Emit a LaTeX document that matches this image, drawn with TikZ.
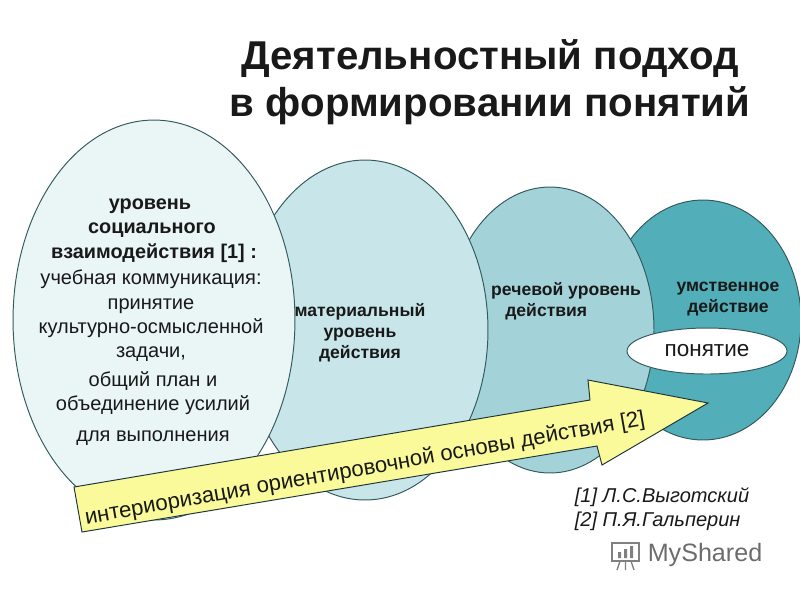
\documentclass[tikz,border=0pt]{standalone}
\usepackage{fontspec}
\setmainfont{Liberation Sans}
\usepackage{xcolor}
\usetikzlibrary{positioning, shapes.geometric}
\definecolor{lvLine}{RGB}{50, 90, 95}
\definecolor{lvSocial}{RGB}{234, 245, 246}
\definecolor{lvMaterial}{RGB}{200, 230, 233}
\definecolor{lvSpeech}{RGB}{163, 211, 216}
\definecolor{lvMental}{RGB}{82, 174, 184}
\definecolor{lvArrow}{RGB}{250, 250, 155}
\definecolor{lvText}{RGB}{25, 25, 25}
\tikzset{
    level/.style={
        ellipse,
        draw=lvLine,
        line width=0.55pt,
        inner sep=0pt
    },
    title/.style={
        font=\fontsize{22.9}{26.9}\selectfont\bfseries,
        text=lvText,
        align=center
    },
    plain/.style={
        font=\fontsize{11.4}{13.9}\selectfont,
        text=lvText,
        align=center
    },
    strong/.style={
        font=\fontsize{10}{12}\selectfont\bfseries,
        text=lvText,
        align=center
    },
    source/.style={
        font=\fontsize{11.4}{13.3}\selectfont\itshape,
        text=lvText,
        align=left
    }
}
\begin{document}
\begin{tikzpicture}[x=0.02cm, y=-0.02cm]
  \useasboundingbox (0,0) rectangle (800,600);

  % Title
  \node[title] (heading) at (490,82) {Деятельностный подход\\в формировании понятий};

  % Levels, back to front
  \node[level, fill=lvMental, minimum width=3.92cm, minimum height=4.8cm] (mental) at (703,320) {};
  \node[level, fill=lvSpeech, minimum width=4.16cm, minimum height=5.72cm] (speech) at (550,330) {};
  \node[level, fill=lvMaterial, minimum width=4.92cm, minimum height=6.8cm] (material) at (365,330) {};
  \node[level, fill=lvSocial, minimum width=5.64cm, minimum height=8cm] (social) at (154,320) {};

  % Concept
  \node[level, fill=white, minimum width=3.2cm, minimum height=0.92cm, plain, font=\fontsize{12.8}{14}\selectfont] (concept) at (707,351) {понятие};

  % Arrow
  \draw[lvLine!60!black, line width=0.55pt, fill=lvArrow] (74,487) -- (590,400) -- (588,380) -- (708,403)
    -- (602,465) -- (597,446) -- (82,532) -- cycle;
  \node[plain, rotate=10, font=\fontsize{12.6}{14}\selectfont] (interior) at (365,469)
    {интериоризация ориентировочной основы действия [2]};

  % Social level text
  \node[strong, font=\fontsize{11.3}{12}\selectfont\bfseries] (socialA) at (150,206) {уровень};
  \node[strong, font=\fontsize{11.3}{12}\selectfont\bfseries] (socialB) at (152,230) {социального};
  \node[strong, font=\fontsize{11.3}{12}\selectfont\bfseries] (socialC) at (154,253) {взаимодействия [1] :};
  \node[plain] (socialD) at (151,316) {учебная коммуникация:\\принятие\\культурно-осмысленной\\задачи,};
  \node[plain] (socialE) at (153,393) {общий план и\\объединение усилий};
  \node[plain] (socialF) at (153,438) {для выполнения};

  % Other level text
  \node[strong] (materialT) at (360,333) {материальный\\уровень\\действия};
  \node[strong, align=left, anchor=west] (speechT) at (485,301) {речевой уровень\\\hspace{8pt}действия};
  \node[strong] (mentalT) at (728,299) {умственное\\действие};

  % Sources
  \node[source] (sources) at (662,509) {[1] Л.С.Выготский\\{}[2] П.Я.Гальперин};

  % Watermark
  \draw[gray, thick] (612,543) rectangle (639,561);
  \fill[gray] (618,552) rectangle (621,558) (624,549) rectangle (627,558) (630,546) rectangle (633,558);
  \draw[gray, thick] (620,561) -- (617,570) (625.5,561) -- (625.5,570) (631,561) -- (634,570);
  \node[font=\fontsize{14.3}{15}\selectfont, text=gray!85!black] (brand) at (705,555) {MyShared};
\end{tikzpicture}
\end{document}
